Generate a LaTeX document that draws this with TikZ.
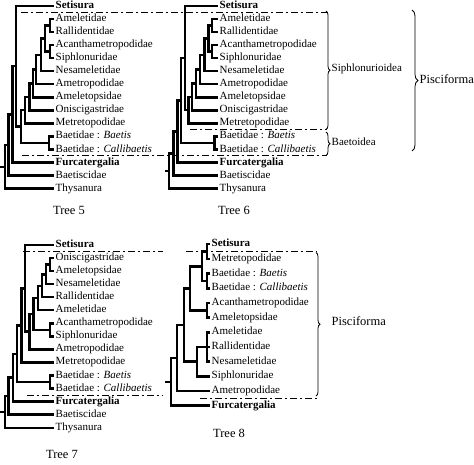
\documentclass[tikz,border=0pt]{standalone}
\usepackage{fontspec}
\setmainfont{Liberation Serif}
\usetikzlibrary{decorations.pathreplacing}
\begin{document}
\begin{tikzpicture}
	[x=1pt,y=-1pt,
	leaf/.style={anchor=west,inner sep=1.5pt,text height=7.5pt,text depth=2.5pt,font=\fontsize{11}{13}\selectfont},
	edge/.style={line width=2.4pt},
	split/.style={line width=0.9pt,dash pattern=on 7pt off 3pt on 2pt off 3pt},
	clade/.style={line width=0.8pt,decorate,decoration={brace,amplitude=4pt}},
	caption/.style={font=\fontsize{12.5}{15}\selectfont}]
	\useasboundingbox (0,0) rectangle (474,465);

	% Tree 5
	\node[leaf] (a0) at (54,6) {\bfseries Setisura};
	\node[leaf] (a1) at (54,19.05) {Ameletidae};
	\node[leaf] (a2) at (54,32.1) {Rallidentidae};
	\node[leaf] (a3) at (54,45.15) {Acanthametropodidae};
	\node[leaf] (a4) at (54,58.2) {Siphlonuridae};
	\node[leaf] (a5) at (54,71.25) {Nesameletidae};
	\node[leaf] (a6) at (54,84.3) {Ametropodidae};
	\node[leaf] (a7) at (54,97.35) {Ameletopsidae};
	\node[leaf] (a8) at (54,110.4) {Oniscigastridae};
	\node[leaf] (a9) at (54,123.45) {Metretopodidae};
	\node[leaf] (a10) at (54,136.5) {Baetidae : \textit{Baetis}};
	\node[leaf] (a11) at (54,149.55) {Baetidae : \textit{Callibaetis}};
	\node[leaf] (a12) at (54,162.6) {\bfseries Furcatergalia};
	\node[leaf] (a13) at (54,175.65) {Baetiscidae};
	\node[leaf] (a14) at (54,188.7) {Thysanura};

	\coordinate (ia1) at (50,25.58);
	\coordinate (ia2) at (50,51.68);
	\coordinate (ia3) at (45,38.63);
	\coordinate (ia4) at (40.7,54.94);
	\coordinate (ia5) at (36,69.62);
	\coordinate (ia6) at (33,83.49);
	\coordinate (ia7) at (29.3,96.94);
	\coordinate (ia8) at (25,110.2);
	\coordinate (ia9) at (49,143.03);
	\coordinate (ia10) at (21,126.6);
	\coordinate (ia11) at (16,66.3);
	\coordinate (ia12) at (12.5,114.45);
	\coordinate (ia13) at (8.5,145.05);
	\coordinate (ia14) at (5,166.9);
	\coordinate (ra) at (0,166.9);

	\draw[edge] (ia1) |- (a1.west) (ia1) |- (a2.west);
	\draw[edge] (ia2) |- (a3.west) (ia2) |- (a4.west);
	\draw[edge] (ia3) |- (ia1) (ia3) |- (ia2);
	\draw[edge] (ia4) |- (ia3) (ia4) |- (a5.west);
	\draw[edge] (ia5) |- (ia4) (ia5) |- (a6.west);
	\draw[edge] (ia6) |- (ia5) (ia6) |- (a7.west);
	\draw[edge] (ia7) |- (ia6) (ia7) |- (a8.west);
	\draw[edge] (ia8) |- (ia7) (ia8) |- (a9.west);
	\draw[edge] (ia9) |- (a10.west) (ia9) |- (a11.west);
	\draw[edge] (ia10) |- (ia8) (ia10) |- (ia9);
	\draw[edge] (ia11) |- (a0.west) (ia11) |- (ia10);
	\draw[edge] (ia12) |- (ia11) (ia12) |- (a12.west);
	\draw[edge] (ia13) |- (ia12) (ia13) |- (a13.west);
	\draw[edge] (ia14) |- (ia13) (ia14) |- (a14.west);
	\draw[edge] (ra) -- (ia14);

	% Tree 6
	\node[leaf] (b0) at (218,6) {\bfseries Setisura};
	\node[leaf] (b1) at (218,19.05) {Ameletidae};
	\node[leaf] (b2) at (218,32.1) {Rallidentidae};
	\node[leaf] (b3) at (218,45.15) {Acanthametropodidae};
	\node[leaf] (b4) at (218,58.2) {Siphlonuridae};
	\node[leaf] (b5) at (218,71.25) {Nesameletidae};
	\node[leaf] (b6) at (218,84.3) {Ametropodidae};
	\node[leaf] (b7) at (218,97.35) {Ameletopsidae};
	\node[leaf] (b8) at (218,110.4) {Oniscigastridae};
	\node[leaf] (b9) at (218,123.45) {Metretopodidae};
	\node[leaf] (b10) at (218,136.5) {Baetidae : \textit{Baetis}};
	\node[leaf] (b11) at (218,149.55) {Baetidae : \textit{Callibaetis}};
	\node[leaf] (b12) at (218,162.6) {\bfseries Furcatergalia};
	\node[leaf] (b13) at (218,175.65) {Baetiscidae};
	\node[leaf] (b14) at (218,188.7) {Thysanura};

	\coordinate (ib1) at (212,25.58);
	\coordinate (ib2) at (212,51.68);
	\coordinate (ib3) at (208.5,38.63);
	\coordinate (ib4) at (204.5,54.94);
	\coordinate (ib5) at (200,69.62);
	\coordinate (ib6) at (196,83.49);
	\coordinate (ib7) at (192,96.94);
	\coordinate (ib8) at (188.5,110.2);
	\coordinate (ib9) at (185,58.1);
	\coordinate (ib10) at (214.5,143.03);
	\coordinate (ib11) at (181,100.57);
	\coordinate (ib12) at (177.5,131.59);
	\coordinate (ib13) at (173.3,153.62);
	\coordinate (ib14) at (169,171.16);
	\coordinate (rb) at (165,171.16);

	\draw[edge] (ib1) |- (b1.west) (ib1) |- (b2.west);
	\draw[edge] (ib2) |- (b3.west) (ib2) |- (b4.west);
	\draw[edge] (ib3) |- (ib1) (ib3) |- (ib2);
	\draw[edge] (ib4) |- (ib3) (ib4) |- (b5.west);
	\draw[edge] (ib5) |- (ib4) (ib5) |- (b6.west);
	\draw[edge] (ib6) |- (ib5) (ib6) |- (b7.west);
	\draw[edge] (ib7) |- (ib6) (ib7) |- (b8.west);
	\draw[edge] (ib8) |- (ib7) (ib8) |- (b9.west);
	\draw[edge] (ib9) |- (b0.west) (ib9) |- (ib8);
	\draw[edge] (ib10) |- (b10.west) (ib10) |- (b11.west);
	\draw[edge] (ib11) |- (ib9) (ib11) |- (ib10);
	\draw[edge] (ib12) |- (ib11) (ib12) |- (b12.west);
	\draw[edge] (ib13) |- (ib12) (ib13) |- (b13.west);
	\draw[edge] (ib14) |- (ib13) (ib14) |- (b14.west);
	\draw[edge] (rb) -- (ib14);

	% Tree 7
	\node[leaf] (c0) at (54,245) {\bfseries Setisura};
	\node[leaf] (c1) at (54,258.05) {Oniscigastridae};
	\node[leaf] (c2) at (54,271.1) {Ameletopsidae};
	\node[leaf] (c3) at (54,284.15) {Nesameletidae};
	\node[leaf] (c4) at (54,297.2) {Rallidentidae};
	\node[leaf] (c5) at (54,310.25) {Ameletidae};
	\node[leaf] (c6) at (54,323.3) {Acanthametropodidae};
	\node[leaf] (c7) at (54,336.35) {Siphlonuridae};
	\node[leaf] (c8) at (54,349.4) {Ametropodidae};
	\node[leaf] (c9) at (54,362.45) {Metretopodidae};
	\node[leaf] (c10) at (54,375.5) {Baetidae : \textit{Baetis}};
	\node[leaf] (c11) at (54,388.55) {Baetidae : \textit{Callibaetis}};
	\node[leaf] (c12) at (54,401.6) {\bfseries Furcatergalia};
	\node[leaf] (c13) at (54,414.65) {Baetiscidae};
	\node[leaf] (c14) at (54,427.7) {Thysanura};

	\coordinate (ic1) at (50,264.58);
	\coordinate (ic2) at (46,274.36);
	\coordinate (ic3) at (41.7,285.78);
	\coordinate (ic4) at (37.7,298.02);
	\coordinate (ic5) at (50,329.83);
	\coordinate (ic6) at (33.3,313.92);
	\coordinate (ic7) at (29.3,331.66);
	\coordinate (ic8) at (25,288.33);
	\coordinate (ic9) at (21.5,325.39);
	\coordinate (ic10) at (50,382.03);
	\coordinate (ic11) at (17,353.71);
	\coordinate (ic12) at (12.7,377.66);
	\coordinate (ic13) at (8.5,396.15);
	\coordinate (ic14) at (5,411.93);
	\coordinate (rc) at (0,411.93);

	\draw[edge] (ic1) |- (c1.west) (ic1) |- (c2.west);
	\draw[edge] (ic2) |- (ic1) (ic2) |- (c3.west);
	\draw[edge] (ic3) |- (ic2) (ic3) |- (c4.west);
	\draw[edge] (ic4) |- (ic3) (ic4) |- (c5.west);
	\draw[edge] (ic5) |- (c6.west) (ic5) |- (c7.west);
	\draw[edge] (ic6) |- (ic4) (ic6) |- (ic5);
	\draw[edge] (ic7) |- (ic6) (ic7) |- (c8.west);
	\draw[edge] (ic8) |- (c0.west) (ic8) |- (ic7);
	\draw[edge] (ic9) |- (ic8) (ic9) |- (c9.west);
	\draw[edge] (ic10) |- (c10.west) (ic10) |- (c11.west);
	\draw[edge] (ic11) |- (ic9) (ic11) |- (ic10);
	\draw[edge] (ic12) |- (ic11) (ic12) |- (c12.west);
	\draw[edge] (ic13) |- (ic12) (ic13) |- (c13.west);
	\draw[edge] (ic14) |- (ic13) (ic14) |- (c14.west);
	\draw[edge] (rc) -- (ic14);

	% Tree 8
	\node[leaf] (d0) at (210,244.3) {\bfseries Setisura};
	\node[leaf] (d1) at (210,258.97) {Metretopodidae};
	\node[leaf] (d2) at (210,273.64) {Baetidae : \textit{Baetis}};
	\node[leaf] (d3) at (210,288.31) {Baetidae : \textit{Callibaetis}};
	\node[leaf] (d4) at (210,302.98) {Acanthametropodidae};
	\node[leaf] (d5) at (210,317.65) {Ameletopsidae};
	\node[leaf] (d6) at (210,332.32) {Ameletidae};
	\node[leaf] (d7) at (210,346.99) {Rallidentidae};
	\node[leaf] (d8) at (210,361.66) {Nesameletidae};
	\node[leaf] (d9) at (210,376.33) {Siphlonuridae};
	\node[leaf] (d10) at (210,391) {Ametropodidae};
	\node[leaf] (d11) at (210,405.67) {\bfseries Furcatergalia};

	\coordinate (id1) at (207,251.64);
	\coordinate (id2) at (207,280.98);
	\coordinate (id3) at (202,266.31);
	\coordinate (id4) at (207,310.32);
	\coordinate (id5) at (190,288.31);
	\coordinate (id6) at (207,346.99);
	\coordinate (id7) at (197,361.66);
	\coordinate (id8) at (184,324.99);
	\coordinate (id9) at (177,358);
	\coordinate (id10) at (171,381.8);
	\coordinate (rd) at (165,381.8);

	\draw[edge] (id1) |- (d0.west) (id1) |- (d1.west);
	\draw[edge] (id2) |- (d2.west) (id2) |- (d3.west);
	\draw[edge] (id3) |- (id1) (id3) |- (id2);
	\draw[edge] (id4) |- (d4.west) (id4) |- (d5.west);
	\draw[edge] (id5) |- (id3) (id5) |- (id4);
	\draw[edge] (id6) |- (d6.west) (id6) |- (d7.west) (id6) |- (d8.west);
	\draw[edge] (id7) |- (id6) (id7) |- (d9.west);
	\draw[edge] (id8) |- (id5) (id8) |- (id7);
	\draw[edge] (id9) |- (id8) (id9) |- (d10.west);
	\draw[edge] (id10) |- (id9) (id10) |- (d11.west);
	\draw[edge] (rd) -- (id10);

	% dashed limits
	\draw[split] (21,12.5) -- (327,12.5);
	\draw[split] (22,155.5) -- (327,155.5);
	\draw[split] (190,129.5) -- (327,129.5);
	\draw[split] (23,251.5) -- (163,251.5);
	\draw[split] (27,395.5) -- (163,395.5);
	\draw[split] (186,251.5) -- (317,251.5);
	\draw[split] (200,398) -- (317,398);

	% braces
	\draw[clade] (326,11) -- (326,129.5);
	\draw[clade] (326,132) -- (326,155.5);
	\draw[clade,decoration={amplitude=6pt}] (412,10) -- (412,151);
	\draw[clade] (316,252.5) -- (316,396);
	\node[leaf] (siph) at (330,69) {Siphlonurioidea};
	\node[leaf] (baet) at (330,143.5) {Baetoidea};
	\node[leaf,caption] (pisc6) at (418,81) {Pisciforma};
	\node[leaf,caption] (pisc8) at (330,323) {Pisciforma};

	% captions
	\node[caption] (t5) at (69,210) {Tree 5};
	\node[caption] (t6) at (234,210) {Tree 6};
	\node[caption] (t7) at (62,454) {Tree 7};
	\node[caption] (t8) at (229,433) {Tree 8};
\end{tikzpicture}
\end{document}
